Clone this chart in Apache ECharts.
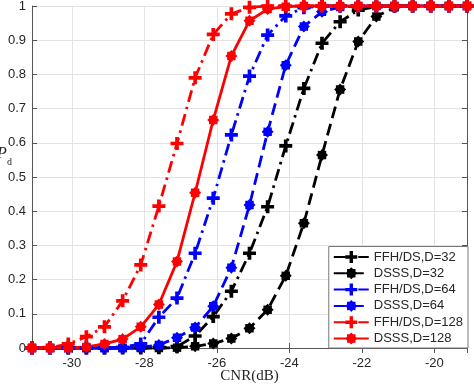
<!DOCTYPE html>
<html>
<head>
<meta charset="utf-8">
<script src="https://cdn.jsdelivr.net/npm/echarts@6/dist/echarts.min.js"></script>
<style>
html,body{margin:0;padding:0;background:#fff;}
#chart{width:474px;height:386px;}
</style>
</head>
<body>
<div id="chart"></div>
<script>
// CNR (dB) sample points
const cnr = [-31.1,-30.6,-30.1,-29.6,-29.1,-28.6,-28.1,-27.6,-27.1,-26.6,-26.1,-25.6,-25.1,-24.6,-24.1,-23.6,-23.1,-22.6,-22.1,-21.6,-21.1,-20.6,-20.1,-19.6,-19.1];

const seriesNames = ['FFH/DS,D=32','DSSS,D=32','FFH/DS,D=64','DSSS,D=64','FFH/DS,D=128','DSSS,D=128'];
const xTitle = 'CNR(dB)';

const ffh32  = [0,0,0,0,0,0,0,0.001,0.004,0.035,0.092,0.166,0.277,0.413,0.591,0.759,0.891,0.954,0.988,0.998,1,1,1,1,1];
const dsss32 = [0,0,0,0,0,0,0,0,0.001,0.005,0.013,0.028,0.058,0.112,0.211,0.365,0.564,0.756,0.896,0.969,0.996,1,1,1,1];
const ffh64  = [0,0,0,0,0,0.002,0.012,0.09,0.146,0.277,0.438,0.623,0.795,0.915,0.971,0.995,1,1,1,1,1,1,1,1,1];
const dsss64 = [0,0,0,0,0,0,0.002,0.009,0.03,0.06,0.122,0.235,0.418,0.632,0.827,0.94,0.983,0.997,1,1,1,1,1,1,1];
const ffh128 = [0,0.001,0.012,0.033,0.062,0.138,0.243,0.415,0.598,0.79,0.917,0.977,0.996,1,1,1,1,1,1,1,1,1,1,1,1];
const dsss128= [0,0,0,0.003,0.012,0.026,0.062,0.127,0.253,0.454,0.667,0.854,0.957,0.991,0.998,1,1,1,1,1,1,1,1,1,1];

// marker shapes
const plusPath = 'path://M4.3,0H7.7V4.3H12V7.7H7.7V12H4.3V7.7H0V4.3H4.3Z';
function starPath(){
  let s = 'path://';
  const n = 16;
  for (let i = 0; i < n; i++) {
    const a = Math.PI * 2 * i / n - Math.PI / 2;
    const r = (i % 2 === 0) ? 10 : 7.6;
    const x = (10 + r * Math.cos(a)).toFixed(2);
    const y = (10 + r * Math.sin(a)).toFixed(2);
    s += (i === 0 ? 'M' : 'L') + x + ',' + y;
  }
  return s + 'Z';
}
const blobPath = starPath();

const sans = '"Liberation Sans", Arial, Helvetica, sans-serif';
const serif = '"Liberation Serif", "Times New Roman", serif';
const axisColor = '#555555';
const gridColor = '#e3e3e3';
const textColor = '#262626';

const dashDot = [12, 5, 2.5, 5];
const dashed = [12, 6];

function mk(name, vals, color, symbol, size, dash) {
  return {
    name: name,
    type: 'line',
    data: cnr.map((x, i) => [x, vals[i]]),
    symbol: symbol,
    symbolSize: size,
    showAllSymbol: true,
    clip: false,
    lineStyle: { color: color, width: 2.8, type: dash, cap: 'butt' },
    itemStyle: { color: color, borderWidth: 0 },
    emphasis: { disabled: true },
    animation: false
  };
}

const chart = echarts.init(document.getElementById('chart'), null, { renderer: 'canvas' });
const option = {
  animation: false,
  backgroundColor: '#ffffff',
  grid: { left: 32, right: 7, top: 6, bottom: 38, containLabel: false, outerBoundsMode: 'none' },
  xAxis: [
    {
      type: 'value', min: -31.1, max: -19.1, splitNumber: 6, position: 'bottom',
      axisLine: { show: true, lineStyle: { color: axisColor, width: 1 } },
      axisTick: { show: true, inside: true, length: 5, lineStyle: { color: axisColor } },
      axisLabel: { color: textColor, fontSize: 13, fontFamily: sans, margin: 9, showMinLabel: false, showMaxLabel: false },
      splitLine: { show: true, lineStyle: { color: gridColor, width: 1 } }
    },
    {
      type: 'value', min: -31.1, max: -19.1, splitNumber: 6, position: 'top',
      axisLine: { show: true, lineStyle: { color: axisColor, width: 1 } },
      axisTick: { show: true, inside: true, length: 5, lineStyle: { color: axisColor } },
      axisLabel: { show: false },
      splitLine: { show: false }
    }
  ],
  yAxis: [
    {
      type: 'value', min: 0, max: 1, interval: 0.1, position: 'left',
      axisLine: { show: true, lineStyle: { color: axisColor, width: 1 } },
      axisTick: { show: true, inside: true, length: 5, lineStyle: { color: axisColor } },
      axisLabel: { color: textColor, fontSize: 13, fontFamily: sans, margin: 6 },
      splitLine: { show: true, lineStyle: { color: gridColor, width: 1 } }
    },
    {
      type: 'value', min: 0, max: 1, interval: 0.1, position: 'right',
      axisLine: { show: true, lineStyle: { color: axisColor, width: 1 } },
      axisTick: { show: true, inside: true, length: 5, lineStyle: { color: axisColor } },
      axisLabel: { show: false },
      splitLine: { show: false }
    }
  ],
  legend: {
    data: seriesNames,
    orient: 'vertical',
    right: 6, bottom: 38,
    padding: [3, 5, 2, 4],
    itemWidth: 35, itemHeight: 15, itemGap: 1.3,
    backgroundColor: '#ffffff',
    borderColor: '#777777', borderWidth: 1,
    textStyle: { fontFamily: sans, fontSize: 13, color: textColor, lineHeight: 15, padding: [0,0,0,0] },
    selectedMode: false
  },
  graphic: [
    { type: 'text', left: -3, top: 146, style: { text: 'P', font: 'italic 16px ' + serif, fill: textColor } },
    { type: 'text', left: 7, top: 157, style: { text: 'd', font: '10px ' + serif, fill: textColor } },
    { type: 'text', x: 249.5, y: 376, style: { text: xTitle, font: '15px ' + serif, fill: textColor, align: 'center', verticalAlign: 'middle' } }
  ],
  series: [
    mk(seriesNames[0], ffh32, '#000000', plusPath, 13, dashDot),
    mk(seriesNames[1], dsss32, '#000000', blobPath, 12, dashed),
    mk(seriesNames[2], ffh64, '#0000ff', plusPath, 13, dashDot),
    mk(seriesNames[3], dsss64, '#0000ff', blobPath, 12, dashed),
    mk(seriesNames[4], ffh128, '#ff0000', plusPath, 13, dashDot),
    mk(seriesNames[5], dsss128, '#ff0000', blobPath, 12, 'solid')
  ]
};
chart.setOption(option);
</script>
</body>
</html>
